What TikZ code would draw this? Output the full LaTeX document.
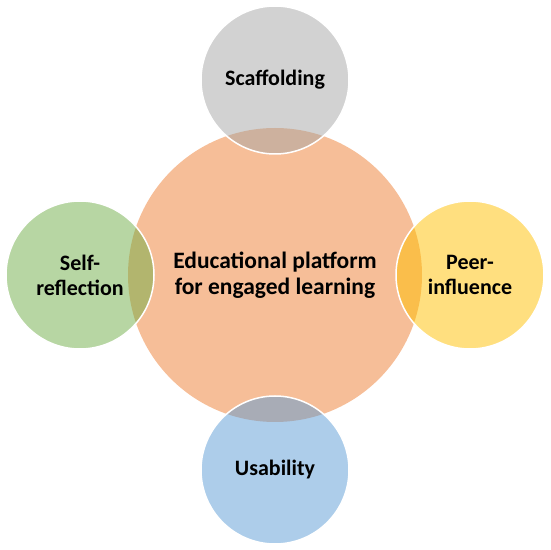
\documentclass[tikz,border=0pt]{standalone}
\usepackage{fontspec}
\setmainfont{Carlito}
\definecolor{hubOrange}{HTML}{ED7D31}
\definecolor{satGrey}{HTML}{A5A5A5}
\definecolor{satGold}{HTML}{FFC000}
\definecolor{satGreen}{HTML}{70AD47}
\definecolor{satBlue}{HTML}{5B9BD5}
\tikzset{
	hub/.style={
		circle, fill=hubOrange, fill opacity=.5, text opacity=1,
		minimum size=294pt, inner sep=0pt, align=center,
		font={\bfseries\fontsize{23.5}{26}\selectfont}
	},
	sat/.style={
		circle, fill=#1, fill opacity=.5, draw=white, draw opacity=1,
		line width=1.5pt, text opacity=1,
		minimum size=148pt, inner sep=0pt, align=center,
		font={\bfseries\fontsize{22}{25}\selectfont}
	},
}
\begin{document}
\begin{tikzpicture}[x=1pt, y=1pt]
\useasboundingbox (0,0) rectangle (550,550);
\node [hub] (hub) at (275,275) {Educational platform\\for engaged learning};
\node [sat=satGrey]  (scaffold) at (275,470) {Scaffolding};
\node [sat=satGold]  (peer)     at (470,275) {Peer-\\influence};
\node [sat=satBlue]  (usab)     at (275,80)  {Usability};
\node [sat=satGreen] (selfref)  at (80,275)  {Self-\\reflection};
\end{tikzpicture}
\end{document}
